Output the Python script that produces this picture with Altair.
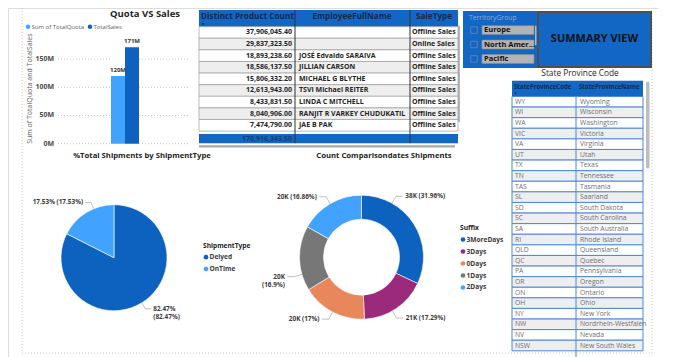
import altair as alt
import numpy as np
import pandas as pd

# ---------------- data ----------------
bar_title = "Quota VS Sales"
bar_series = ["Sum of TotalQuota", "TotalSales"]
bar_values = [120_000_000, 171_000_000]
bar_value_labels = ["120M", "171M"]
bar_axis_title = "Sum of TotalQuota and TotalSales"
bar_tick_values = [0, 50_000_000, 100_000_000, 150_000_000]
bar_tick_labels = ["0M", "50M", "100M", "150M"]

table_headers = ["Distinct Product Count", "EmployeeFullName", "SaleType"]
product_counts = ["37,906,045.40", "29,837,323.50", "18,893,238.60", "18,586,137.50",
                  "15,806,332.20", "12,613,943.00", "8,433,831.50", "8,040,906.00",
                  "7,474,790.00"]
employee_names = ["", "", "JOSÉ Edvaldo SARAIVA", "JILLIAN CARSON", "MICHAEL G BLYTHE",
                  "TSVI Michael REITER", "LINDA C MITCHELL", "RANJIT R VARKEY CHUDUKATIL",
                  "JAE B PAK"]
sale_types = ["Offline Sales", "Online Sales", "Offline Sales", "Offline Sales",
              "Offline Sales", "Offline Sales", "Offline Sales", "Offline Sales",
              "Offline Sales"]
product_total = ["170,916,343.50"]

territory_title = "TerritoryGroup"
territories = ["Europe", "North Amer...", "Pacific"]
summary_text = "SUMMARY VIEW"

state_title = "State Province Code"
state_headers = ["StateProvinceCode", "StateProvinceName"]
state_codes = ["WY", "WI", "WA", "VIC", "VA", "UT", "TX", "TN", "TAS", "SL", "SD", "SC",
               "SA", "RI", "QLD", "QC", "PA", "OR", "ON", "OH", "NY", "NW", "NV", "NSW"]
state_names = ["Wyoming", "Wisconsin", "Washington", "Victoria", "Virginia", "Utah", "Texas",
               "Tennessee", "Tasmania", "Saarland", "South Dakota", "South Carolina",
               "South Australia", "Rhode Island", "Queensland", "Quebec", "Pennsylvania",
               "Oregon", "Ontario", "Ohio", "New York", "Nordrhein-Westfalen", "Nevada",
               "New South Wales"]

pie_title = "%Total Shipments by ShipmentType"
pie_legend_title = "ShipmentType"
ship_types = ["Delyed", "OnTime"]
ship_pct = [82.47, 17.53]
ship_labels = ["82.47%\n(82.47%)", "17.53% (17.53%)"]

donut_title = "Count Comparisondates Shipments"
donut_legend_title = "Suffix"
suffixes = ["3MoreDays", "3Days", "0Days", "1Days", "2Days"]
suffix_pct = [31.96, 17.29, 17.0, 16.9, 16.86]
suffix_labels = ["38K (31.96%)", "21K (17.29%)", "20K (17%)", "20K\n(16.9%)", "20K (16.86%)"]

# ---------------- style / layout ----------------
FONT = "Open Sans"
DARK = "#0C62BE"
LIGHT = "#41A3FF"
PURPLE = "#9B2A7C"
ORANGE = "#E8875B"
GREY = "#777777"
HEAD = "#1266C4"
NAVY = "#1B2A45"
TXT = "#252423"
SUB = "#605E5C"
LEAD = "#B3B0AD"
LABEL_FS = 6.4

W, H = 650, 349
K = H / 355.0


def X(r):
    return r - 8


def Y(r):
    return (r - 2) * K


one = pd.DataFrame({"a": [0]})


def vtext(txt, x, y, size=8, weight="normal", color=TXT, align="left", angle=0):
    return alt.Chart(pd.DataFrame({"t": [txt]})).mark_text(
        font=FONT, fontSize=size, fontWeight=weight, color=color, align=align,
        baseline="middle", angle=angle
    ).encode(x=alt.value(x), y=alt.value(y), text="t:N")


def vrect(x1, x2, y1, y2, fill, stroke="transparent", sw=0, dash=None, radius=0):
    kw = dict(fill=fill, stroke=stroke, strokeWidth=sw, cornerRadius=radius)
    if dash:
        kw["strokeDash"] = dash
    return alt.Chart(one).mark_rect(**kw).encode(
        x=alt.value(x1), x2=alt.value(x2), y=alt.value(y1), y2=alt.value(y2))


def vrule(x1, x2, y1, y2, color, sw=1, dash=None):
    kw = dict(color=color, strokeWidth=sw)
    if dash:
        kw["strokeDash"] = dash
    return alt.Chart(one).mark_rule(**kw).encode(
        x=alt.value(x1), x2=alt.value(x2), y=alt.value(y1), y2=alt.value(y2))


layers = []

# dashboard dotted frame
layers.append(vrect(X(22), X(652), Y(1), Y(353), "transparent", "#C8C6C4", 1, [1, 2]))

# ---------------- bar chart ----------------
layers.append(vtext(bar_title, X(110), Y(8), 9.5, "bold"))
layers.append(alt.Chart(one).mark_point(filled=True, size=20, color=LIGHT, opacity=1)
              .encode(x=alt.value(X(28)), y=alt.value(Y(21))))
layers.append(vtext(bar_series[0], X(31.5), Y(21), 6, color=SUB))
layers.append(alt.Chart(one).mark_point(filled=True, size=20, color=DARK, opacity=1)
              .encode(x=alt.value(X(90)), y=alt.value(Y(21))))
layers.append(vtext(bar_series[1], X(93.5), Y(21), 6, color=SUB))
layers.append(vtext(bar_axis_title, X(30), Y(84), 7, color=SUB, align="center", angle=270))

MILLION = 1_000_000
PLOT_L, PLOT_R = 58, 190      # bar visual's plot area (ref px)
BAR_L, BAR_R = 111, 139       # span of the bar cluster (ref px)
TOP_M = max(bar_tick_values) / MILLION

# gridlines and tick labels: distance below the top tick, on an increasing pixel range
yinv = alt.Scale(domain=[0, TOP_M], range=[Y(54), Y(140)], nice=False, zero=False)
xg = alt.Scale(domain=[0, 1], range=[X(PLOT_L), X(PLOT_R)], nice=False, zero=False)
gap0 = (BAR_L - PLOT_L) / (PLOT_R - PLOT_L)
gap1 = (BAR_R - PLOT_L) / (PLOT_R - PLOT_L)
tick_m = [v / MILLION for v in bar_tick_values]
seg_rows = []
for mv in tick_m:
    seg_rows.append({"below": TOP_M - mv, "g0": 0.0, "g1": gap0})
    seg_rows.append({"below": TOP_M - mv, "g0": gap1, "g1": 1.0})
grid_df = pd.DataFrame(seg_rows)
layers.append(alt.Chart(grid_df).mark_rule(color="#C8C6C4", strokeDash=[1, 2], strokeWidth=1).encode(
    x=alt.X("g0:Q", scale=xg, axis=None), x2="g1:Q",
    y=alt.Y("below:Q", scale=yinv, axis=None)))
tick_df = pd.DataFrame({"below": [TOP_M - mv for mv in tick_m], "lab": bar_tick_labels})
layers.append(alt.Chart(tick_df).mark_text(font=FONT, fontSize=7, fontWeight="bold", color="#4A4A4A",
                                           align="right", baseline="middle").encode(
    x=alt.value(X(PLOT_L - 4)),
    y=alt.Y("below:Q", scale=yinv, axis=None), text="lab:N"))

ybm = alt.Scale(domain=[0, TOP_M], range=[Y(140), Y(54)], nice=False, zero=False)
xb = alt.Scale(domain=bar_series, range=[X(BAR_L), X(BAR_R)], paddingInner=0, paddingOuter=0)
bar_df = pd.DataFrame({"series": bar_series, "m": [v / MILLION for v in bar_values],
                       "label": bar_value_labels})
bars = alt.Chart(bar_df).mark_bar().encode(
    x=alt.X("series:N", scale=xb, axis=None, sort=bar_series),
    y=alt.Y("m:Q", scale=ybm, axis=None),
    color=alt.Color("series:N", scale=alt.Scale(domain=bar_series, range=[LIGHT, DARK]), legend=None))
barlab = alt.Chart(bar_df).mark_text(font=FONT, fontSize=6, fontWeight="bold", color="#333333",
                                     baseline="bottom", dy=-3.5).encode(
    x=alt.X("series:N", scale=xb, axis=None, sort=bar_series),
    y=alt.Y("m:Q", scale=ybm, axis=None), text="label:N")
layers.append(alt.layer(bars, barlab))

# ---------------- product table ----------------
TL, TR = X(199), X(458)
layers.append(vrect(X(457.5), X(460), Y(20), Y(118), "#B5B5B5"))
layers.append(vrect(X(199), X(455), Y(141.5), Y(143.8), "#A8A8A8"))
layers.append(vrect(TL, TR, Y(4), Y(21), HEAD))
layers.append(vtext(table_headers[0], X(201), Y(11), 8.2, "bold", NAVY))
layers.append(alt.Chart(one).mark_point(shape="triangle-down", filled=True, size=8, color=NAVY, opacity=1)
              .encode(x=alt.value(X(203)), y=alt.value(Y(18.5))))
layers.append(vtext(table_headers[1], X(352), Y(11), 8.2, "bold", NAVY, "center"))
layers.append(vtext(table_headers[2], X(434), Y(11), 8.2, "bold", NAVY, "center"))

n = len(product_counts)
prod_df = pd.DataFrame({"i": np.arange(n), "count": product_counts, "emp": employee_names,
                        "sale": sale_types})
prod_df["i2"] = prod_df["i"] + 1
prod_df["mid"] = prod_df["i"] + 0.5
prod_df["band"] = np.where(prod_df["i"] % 2 == 0, "w", "g")
yr = alt.Scale(domain=[0, n], range=[Y(21), Y(127.2)], nice=False, zero=False)
layers.append(alt.Chart(prod_df).mark_rect(stroke="#9E9E9E", strokeWidth=0.7).encode(
    y=alt.Y("i:Q", scale=yr, axis=None), y2="i2:Q", x=alt.value(TL), x2=alt.value(TR),
    fill=alt.Fill("band:N", scale=alt.Scale(domain=["w", "g"], range=["#FFFFFF", "#EEEEEE"]), legend=None)))
for col, xpos, al in [("count", X(292), "right"), ("emp", X(299), "left"), ("sale", X(412), "left")]:
    layers.append(alt.Chart(prod_df).mark_text(font=FONT, fontSize=7, fontWeight="bold", color=TXT,
                                               align=al, baseline="middle").encode(
        y=alt.Y("mid:Q", scale=yr, axis=None), x=alt.value(xpos), text=f"{col}:N"))
tot_df = pd.DataFrame({"i": [n + 0.25], "i2": [n + 1.05], "mid": [n + 0.65], "t": product_total})
layers.append(alt.Chart(tot_df).mark_rect(fill=HEAD).encode(
    y=alt.Y("i:Q", scale=yr, axis=None), y2="i2:Q", x=alt.value(TL), x2=alt.value(TR)))
layers.append(alt.Chart(tot_df).mark_text(font=FONT, fontSize=7, fontWeight="bold", color="#1A3C78",
                                          align="right", baseline="middle").encode(
    y=alt.Y("mid:Q", scale=yr, axis=None), x=alt.value(X(292)), text="t:N"))
layers.append(vrule(X(295), X(295), Y(4), Y(139.5), "#333333", 1))
layers.append(vrule(X(410), X(410), Y(4), Y(139.5), "#333333", 1))

# ---------------- slicer + summary ----------------
layers.append(vrect(X(463), X(537), Y(5), Y(63), HEAD))
layers.append(vtext(territory_title, X(469), Y(12), 6.8, color="#8FA9CF"))
sl_df = pd.DataFrame({"i": np.arange(len(territories)), "t": territories})
sl_df["i0"] = sl_df["i"] - 0.31
sl_df["i1"] = sl_df["i"] + 0.31
ysl = alt.Scale(domain=[0, len(territories) - 1], range=[Y(24.5), Y(53.8)], nice=False, zero=False)
layers.append(alt.Chart(sl_df).mark_point(shape="square", filled=False, size=42, color="#5F7FAE",
                                          strokeWidth=1, opacity=1).encode(
    y=alt.Y("i:Q", scale=ysl, axis=None), x=alt.value(X(474))))
layers.append(alt.Chart(sl_df).mark_rect(fill="#B3B3B3", stroke="#8A8A8A", strokeWidth=0.6).encode(
    y=alt.Y("i0:Q", scale=ysl, axis=None), y2="i1:Q", x=alt.value(X(482)), x2=alt.value(X(534))))
layers.append(alt.Chart(sl_df).mark_text(font=FONT, fontSize=7.5, fontWeight="bold", color="#111111",
                                         align="left", baseline="middle").encode(
    y=alt.Y("i:Q", scale=ysl, axis=None), x=alt.value(X(484)), text="t:N"))
layers.append(vrect(X(535), X(536.5), Y(20), Y(40), "#9FB6D6"))
layers.append(vrect(X(538), X(651), Y(6), Y(62), HEAD, "#4F4F4F", 2))
layers.append(vtext(summary_text, X(594.5), Y(34), 11, "bold", "#111111", "center"))

# ---------------- state table ----------------
layers.append(vtext(state_title, X(580), Y(69), 8.3, "normal", TXT, "center"))
SL, SR = X(512), X(643)
layers.append(vrect(SL, SR, Y(76), Y(92), HEAD))
layers.append(vtext(state_headers[0], X(514), Y(82), 6.1, "bold", NAVY))
layers.append(vtext(state_headers[1], X(579), Y(82), 6.1, "bold", NAVY))
layers.append(alt.Chart(one).mark_point(shape="triangle-down", filled=True, size=6, color=NAVY, opacity=1)
              .encode(x=alt.value(X(515.5)), y=alt.value(Y(89))))
m = len(state_codes)
st_df = pd.DataFrame({"i": np.arange(m), "code": state_codes, "name": state_names})
st_df["i2"] = st_df["i"] + 1
st_df["mid"] = st_df["i"] + 0.5
st_df["band"] = np.where(st_df["i"] % 2 == 0, "w", "g")
ys = alt.Scale(domain=[0, m], range=[Y(92), Y(92 + m * 10.78)], nice=False, zero=False)
layers.append(alt.Chart(st_df).mark_rect(stroke="#4D88D6", strokeWidth=1).encode(
    y=alt.Y("i:Q", scale=ys, axis=None), y2="i2:Q", x=alt.value(SL), x2=alt.value(SR),
    fill=alt.Fill("band:N", scale=alt.Scale(domain=["w", "g"], range=["#FFFFFF", "#EEEEEE"]), legend=None)))
layers.append(vrule(X(576), X(576), Y(92), Y(357), "#4D88D6", 1))
for col, xpos in [("code", X(515)), ("name", X(580))]:
    layers.append(alt.Chart(st_df).mark_text(font=FONT, fontSize=6.8, color="#707070",
                                             align="left", baseline="middle").encode(
        y=alt.Y("mid:Q", scale=ys, axis=None), x=alt.value(xpos), text=f"{col}:N"))
layers.append(vrect(X(646), X(649.5), Y(77), Y(165), "#BDBDBD", radius=1.5))


# ---------------- arcs ----------------
def label_angles(vals, labels, cx, R, bounds):
    """Start each outside label at its slice's mid-angle and slide it towards the
    nearest vertical until the text fits between the visual's horizontal bounds."""
    v = np.array(vals, float)
    mids = (np.cumsum(v) - v / 2) / v.sum() * 360.0
    out = []
    for a, lab in zip(mids, labels):
        w = max(len(s) for s in lab.split("\n")) * 0.6 * LABEL_FS
        step = -1.0 if (a % 180.0) < 90.0 else 1.0
        ang = a
        for _ in range(80):
            s = np.sin(np.radians(ang))
            side = 1.0 if s >= 0 else -1.0
            start = cx + (1.13 * s + side * 0.15) * R
            lo, hi = (start, start + w) if side > 0 else (start - w, start)
            if lo >= bounds[0] and hi <= bounds[1]:
                break
            ang += step
        out.append(ang)
    return np.radians(np.array(out))


def arc_layers(cats, vals, labels, colors, cx, cy, R, inner, title, tx_center,
               ltitle, lx, ly0, lstep, bounds):
    out = []
    out.append(vtext(title, X(tx_center), Y(153), 7.7, "bold", TXT, "center"))
    df = pd.DataFrame({"cat": cats, "v": vals, "ord": np.arange(len(cats))})
    kw = dict(outerRadius=R, stroke="white", strokeWidth=0.6)
    if inner:
        kw["innerRadius"] = inner
    out.append(alt.Chart(df).mark_arc(**kw).encode(
        theta=alt.Theta("v:Q", stack="normalize"),
        order=alt.Order("ord:Q"),
        color=alt.Color("cat:N", scale=alt.Scale(domain=cats, range=colors), legend=None),
        x=alt.value(X(cx)), y=alt.value(Y(cy))))
    ang = label_angles(vals, labels, cx, R, bounds)
    s, c = np.sin(ang), -np.cos(ang)
    side = np.where(s >= 0, 1.0, -1.0)
    lab = pd.DataFrame({"ax": s, "ay": c, "ex": s * 1.13, "ey": c * 1.13, "side": side, "label": labels})
    lab["hx"] = lab["ex"] + side * 0.11
    lab["tx"] = lab["hx"] + side * 0.04
    xs = alt.Scale(domain=[-1, 1], range=[X(cx) - R, X(cx) + R], nice=False, zero=False)
    yss = alt.Scale(domain=[-1, 1], range=[Y(cy) - R, Y(cy) + R], nice=False, zero=False)
    out.append(alt.Chart(lab).mark_rule(color=LEAD, strokeWidth=0.8).encode(
        x=alt.X("ax:Q", scale=xs, axis=None), y=alt.Y("ay:Q", scale=yss, axis=None),
        x2="ex:Q", y2="ey:Q"))
    out.append(alt.Chart(lab).mark_rule(color=LEAD, strokeWidth=0.8).encode(
        x=alt.X("ex:Q", scale=xs, axis=None), y=alt.Y("ey:Q", scale=yss, axis=None),
        x2="hx:Q", y2="ey:Q"))
    for sd, al in [(1.0, "left"), (-1.0, "right")]:
        sub = lab[lab["side"] == sd]
        if len(sub):
            out.append(alt.Chart(sub).mark_text(font=FONT, fontSize=LABEL_FS, fontWeight="bold",
                                                color="#3B3A39", align=al, baseline="middle",
                                                lineBreak="\n").encode(
                x=alt.X("tx:Q", scale=xs, axis=None), y=alt.Y("ey:Q", scale=yss, axis=None),
                text="label:N"))
    # legend
    out.append(vtext(ltitle, X(lx - 3), Y(ly0 - lstep * 0.95), 6.6, "bold", TXT))
    lg = pd.DataFrame({"cat": cats, "i": np.arange(len(cats))})
    ylg = alt.Scale(domain=[0, len(cats)], range=[Y(ly0), Y(ly0 + lstep * len(cats))], nice=False, zero=False)
    out.append(alt.Chart(lg).mark_point(filled=True, size=22, opacity=1).encode(
        y=alt.Y("i:Q", scale=ylg, axis=None), x=alt.value(X(lx)),
        color=alt.Color("cat:N", scale=alt.Scale(domain=cats, range=colors), legend=None)))
    out.append(alt.Chart(lg).mark_text(font=FONT, fontSize=6.6, fontWeight="bold", color="#3B3A39",
                                       align="left", baseline="middle").encode(
        y=alt.Y("i:Q", scale=ylg, axis=None), x=alt.value(X(lx + 3.5)), text="cat:N"))
    return out


layers += arc_layers(ship_types, ship_pct, ship_labels, [DARK, LIGHT], 114, 256, 53, 0,
                     pie_title, 142, pie_legend_title, 206, 255.5, 12, (25, 200))
layers += arc_layers(suffixes, suffix_pct, suffix_labels, [DARK, PURPLE, ORANGE, GREY, LIGHT],
                     361.5, 255.5, 62, 38, donut_title, 384, donut_legend_title, 463, 237.5, 12.2,
                     (258, 452))

chart = alt.layer(*layers).resolve_scale(
    x="independent", y="independent", color="independent", theta="independent", fill="independent"
).properties(
    width=W, height=H, autosize=alt.AutoSizeParams(type="none"), padding=0
).configure_view(strokeWidth=0).configure(background="white")

chart.save("out.html", embed_options={"renderer": "svg", "actions": False})
